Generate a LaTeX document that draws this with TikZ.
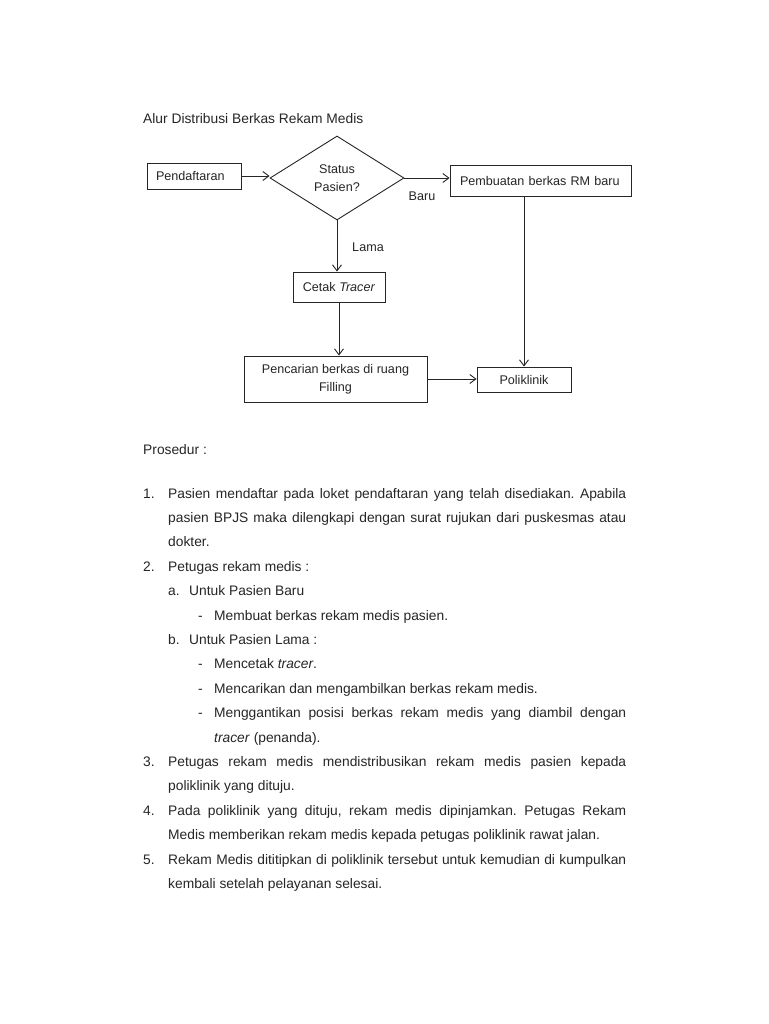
\documentclass[tikz,border=0pt]{standalone}
\usepackage{fontspec}
\setmainfont{Liberation Sans}
\usetikzlibrary{arrows.meta,shapes.geometric,calc}
\newcommand\mydiagfont{\fontsize{12.6}{18}\selectfont}
\newcommand\mybodyfont{\fontsize{13.8}{24.4}\selectfont}
\frenchspacing
\begin{document}
\begin{tikzpicture}[x=1pt,y=-1pt,
  box/.style={draw=black!85, line width=0.9pt, inner sep=0pt, font=\mydiagfont, text=black!85},
  lbl/.style={inner sep=0pt, font=\mydiagfont, text=black!85},
  arr/.style={draw=black!85, line width=0.9pt, -{Straight Barb[length=6pt,width=9pt,line width=0.9pt]}},
  txt/.style={anchor=base west, inner sep=0pt, font=\mybodyfont, text=black!85}]
\fill[white] (0,0) rectangle (768,1024);
\useasboundingbox (0,0) rectangle (768,1024);

% title
\node[txt] (title) at (143,124) {Alur Distribusi Berkas Rekam Medis};

% diagram
\node[box, minimum width=94pt, minimum height=26pt, text width=76pt, inner xsep=9pt, align=left] (pend) at (194,176) {Pendaftaran};
\node[box, shape=diamond, aspect=1.6, minimum width=134pt, minimum height=84pt, align=center] (diam) at (337,178) {Status\\Pasien?};
\node[box, minimum width=181pt, minimum height=31pt, text width=161pt, inner xsep=10pt, align=left] (pemb) at (540.5,180.5) {Pembuatan berkas RM baru};
\node[box, minimum width=92pt, minimum height=30pt, align=center] (cetak) at (339,287) {Cetak \textit{Tracer}};
\node[box, minimum width=183pt, minimum height=46pt, align=center] (penc) at (335.5,379) {Pencarian berkas di ruang\\Filling};
\node[box, minimum width=94pt, minimum height=25pt, align=center] (poli) at (524,379.5) {Poliklinik};

\node[lbl] (baru) at (422,196) {Baru};
\node[lbl] (lama) at (368,247) {Lama};

\draw[arr] (pend.east) -- (pend.east -| diam.west);
\draw[arr] (diam.east) -- (diam.east -| pemb.west);
\draw[arr] (diam.south) -- (diam.south |- cetak.north);
\draw[arr] (cetak.south) -- (cetak.south |- penc.north);
\draw[arr] (penc.east) -- (penc.east -| poli.west);
\draw[arr] (poli.north |- pemb.south) -- (poli.north);

% procedure text
\node[txt] (pros) at (143,454) {Prosedur :};

\node[txt] (n1) at (143,498) {1.};
\node[txt] (l0) at (168,498) {\makebox[458pt][s]{Pasien mendaftar pada loket pendaftaran yang telah disediakan. Apabila}};
\node[txt] (l1) at (168,522.4) {\makebox[458pt][s]{pasien BPJS maka dilengkapi dengan surat rujukan dari puskesmas atau}};
\node[txt] (l2) at (168,546.8) {dokter.};

\node[txt] (n2) at (143,571.2) {2.};
\node[txt] (l3) at (168,571.2) {Petugas rekam medis :};
\node[txt] (na) at (168,595.6) {a.};
\node[txt] (l4) at (189,595.6) {Untuk Pasien Baru};
\node[txt] (d1) at (198,620) {-};
\node[txt] (l5) at (214,620) {Membuat berkas rekam medis pasien.};
\node[txt] (nb) at (168,644.4) {b.};
\node[txt] (l6) at (189,644.4) {Untuk Pasien Lama :};
\node[txt] (d2) at (198,668.8) {-};
\node[txt] (l7) at (214,668.8) {Mencetak \textit{tracer}.};
\node[txt] (d3) at (198,693.2) {-};
\node[txt] (l8) at (214,693.2) {Mencarikan dan mengambilkan berkas rekam medis.};
\node[txt] (d4) at (198,717.6) {-};
\node[txt] (l9) at (214,717.6) {\makebox[412pt][s]{Menggantikan posisi berkas rekam medis yang diambil dengan}};
\node[txt] (l10) at (214,742) {\textit{tracer} (penanda).};

\node[txt] (n3) at (143,766.4) {3.};
\node[txt] (l11) at (168,766.4) {\makebox[458pt][s]{Petugas rekam medis mendistribusikan rekam medis pasien kepada}};
\node[txt] (l12) at (168,790.8) {poliklinik yang dituju.};

\node[txt] (n4) at (143,815.2) {4.};
\node[txt] (l13) at (168,815.2) {\makebox[458pt][s]{Pada poliklinik yang dituju, rekam medis dipinjamkan. Petugas Rekam}};
\node[txt] (l14) at (168,839.6) {Medis memberikan rekam medis kepada petugas poliklinik rawat jalan.};

\node[txt] (n5) at (143,864) {5.};
\node[txt] (l15) at (168,864) {\makebox[458pt][s]{Rekam Medis dititipkan di poliklinik tersebut untuk kemudian di kumpulkan}};
\node[txt] (l16) at (168,888.4) {kembali setelah pelayanan selesai.};
\end{tikzpicture}
\end{document}
